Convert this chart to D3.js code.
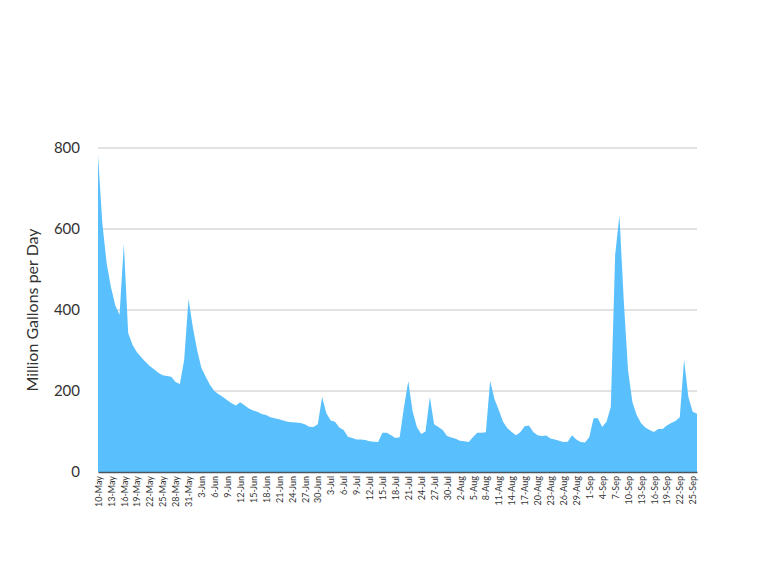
<!DOCTYPE html>
<html>
<head>
<meta charset="utf-8">
<script src="https://cdn.jsdelivr.net/npm/d3@7"></script>
<style>
body { margin: 0; background: #fff; }
text { font-family: Lato, "Open Sans", sans-serif; }
</style>
</head>
<body>
<script>
// daily flow, starting 10-May
var startDate = "2019-05-10";
var flow = [
  783, 615, 516, 457, 412, 388, 563, 343, 314, 296,
  284, 272, 262, 254, 245, 239, 237, 235, 222, 217,
  277, 427, 358, 301, 257, 235, 215, 200, 192, 185,
  177, 170, 164, 172, 165, 157, 152, 149, 143, 141,
  135, 133, 130, 127, 124, 123, 122, 121, 118, 112,
  111, 118, 185, 145, 127, 124, 110, 104, 87, 84,
  80, 80, 79, 76, 75, 74, 97, 97, 91, 84,
  86, 160, 225, 150, 111, 94, 100, 185, 118, 111,
  104, 89, 85, 82, 77, 76, 74, 86, 97, 97,
  98, 225, 180, 153, 124, 108, 99, 91, 98, 113,
  115, 99, 91, 89, 90, 83, 80, 77, 74, 75,
  91, 80, 74, 73, 86, 133, 133, 111, 124, 161,
  535, 634, 425, 252, 173, 141, 121, 110, 104, 99,
  106, 106, 115, 121, 126, 135, 277, 185, 149, 144
];
var yTicks = [0, 200, 400, 600, 800];

var svgWidth = 768, svgHeight = 576;
var margin = { top: 148, right: 71, bottom: 104, left: 98 };
var width = svgWidth - margin.left - margin.right;
var height = svgHeight - margin.top - margin.bottom;

var svg = d3.select("body").append("svg")
  .attr("width", svgWidth)
  .attr("height", svgHeight);

var g = svg.append("g")
  .attr("transform", `translate(${margin.left}, ${margin.top})`);

var parse = d3.timeParse("%Y-%m-%d");
var t0 = parse(startDate);
var data = flow.map((v, i) => ({ date: d3.timeDay.offset(t0, i), value: v }));

var x = d3.scaleTime()
  .domain(d3.extent(data, d => d.date))
  .range([0, width]);

var y = d3.scaleLinear()
  .domain([0, 800])
  .range([height, 0]);

// gridlines
g.selectAll(".grid")
  .data(yTicks.filter(d => d > 0))
  .join("line")
  .attr("x1", 0).attr("x2", width)
  .attr("y1", d => y(d)).attr("y2", d => y(d))
  .attr("stroke", "#d9d9d9")
  .attr("stroke-width", 1.5);

var area = d3.area()
  .x(d => x(d.date))
  .y0(height)
  .y1(d => y(d.value));

g.append("path")
  .datum(data)
  .attr("d", area)
  .attr("fill", "#5ac0fd");

// y axis labels
g.selectAll(".ylab")
  .data(yTicks)
  .join("text")
  .attr("x", -18)
  .attr("y", d => y(d))
  .attr("dy", "0.35em")
  .attr("text-anchor", "end")
  .attr("font-size", 15)
  .attr("fill", "#333")
  .text(d => d);

// x axis
var xTicks = data.filter((d, i) => i % 3 === 0).map(d => d.date);
var xAxis = g.append("g")
  .attr("transform", `translate(0, ${height})`)
  .call(d3.axisBottom(x).tickValues(xTicks).tickFormat(d3.timeFormat("%-d-%b")).tickSize(0).tickPadding(0));

xAxis.select(".domain").attr("stroke", "#4a5560").attr("stroke-width", 1.5);
xAxis.selectAll("text")
  .attr("transform", "rotate(-90)")
  .attr("x", -4)
  .attr("y", 0)
  .attr("dy", "0.35em")
  .attr("text-anchor", "end")
  .attr("font-size", 9)
  .attr("font-family", "Lato, sans-serif")
  .attr("fill", "#333");

svg.append("text")
  .attr("transform", `translate(38, ${margin.top + height / 2}) rotate(-90)`)
  .attr("text-anchor", "middle")
  .attr("font-size", 16)
  .attr("fill", "#333")
  .text("Million Gallons per Day");
</script>
</body>
</html>
